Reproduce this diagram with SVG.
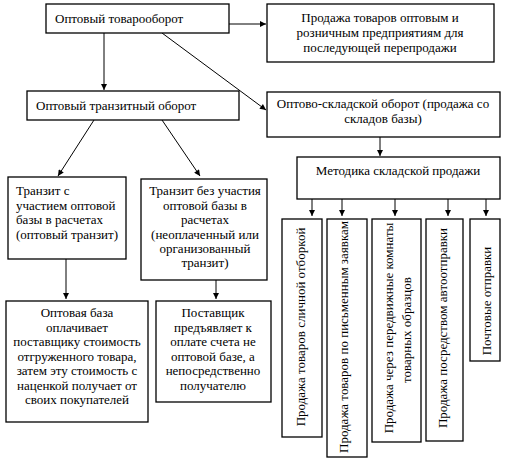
<svg xmlns="http://www.w3.org/2000/svg" width="509" height="460" viewBox="0 0 509 460">
<style>
.box{fill:#fff;stroke:#000;stroke-width:1.3}
text{font-family:"Liberation Serif","Times New Roman",serif;font-size:13px;fill:#000}
.c{text-anchor:middle}
.ln{stroke:#000;stroke-width:1;fill:none;marker-end:url(#ah)}
</style>
<defs>
<marker id="ah" viewBox="0 0 10 10" refX="10" refY="5" markerWidth="7" markerHeight="6" markerUnits="userSpaceOnUse" orient="auto">
<path d="M0,0 L10,5 L0,10 z" fill="#000"/>
</marker>
</defs>
<rect width="509" height="460" fill="#fff"/>
<g id="connectors">
<line class="ln" x1="229" y1="24" x2="266" y2="24"/>
<line class="ln" x1="104" y1="33" x2="104" y2="90"/>
<line class="ln" x1="162" y1="33" x2="266" y2="110"/>
<line class="ln" x1="94" y1="120" x2="58" y2="176"/>
<line class="ln" x1="162" y1="120" x2="200" y2="176"/>
<line class="ln" x1="66" y1="259" x2="66" y2="299"/>
<line class="ln" x1="216" y1="280" x2="216" y2="299"/>
<line class="ln" x1="380" y1="137" x2="380" y2="156"/>
<line class="ln" x1="312" y1="199" x2="312" y2="216"/>
<line class="ln" x1="342" y1="199" x2="342" y2="216"/>
<line class="ln" x1="395" y1="199" x2="395" y2="216"/>
<line class="ln" x1="448" y1="199" x2="448" y2="216"/>
<line class="ln" x1="486" y1="199" x2="486" y2="216"/>
</g>
<g id="n1">
<rect class="box" x="46" y="4" width="183" height="29"/>
<text x="55" y="23">Оптовый товарооборот</text>
</g>
<g id="n2">
<rect class="box" x="267" y="4" width="227" height="58"/>
<text class="c" x="380" y="22">Продажа товаров оптовым и</text>
<text class="c" x="380" y="37">розничным предприятиям для</text>
<text class="c" x="380" y="52">последующей перепродажи</text>
</g>
<g id="n3">
<rect class="box" x="27" y="91" width="212" height="29"/>
<text x="36" y="110">Оптовый транзитный оборот</text>
</g>
<g id="n4">
<rect class="box" x="267" y="92" width="233" height="45"/>
<text class="c" x="383" y="108">Оптово-складской оборот (продажа со</text>
<text class="c" x="383" y="123">складов базы)</text>
</g>
<g id="n5">
<rect class="box" x="8" y="177" width="118" height="82"/>
<text x="16" y="195">Транзит с</text>
<text x="16" y="210">участием оптовой</text>
<text x="16" y="224">базы в расчетах</text>
<text x="16" y="239">(оптовый транзит)</text>
</g>
<g id="n6">
<rect class="box" x="141" y="179" width="126" height="101"/>
<text class="c" x="205" y="195">Транзит без участия</text>
<text class="c" x="205" y="210">оптовой базы в</text>
<text class="c" x="205" y="224">расчетах</text>
<text class="c" x="205" y="239">(неоплаченный или</text>
<text class="c" x="205" y="253">организованный</text>
<text class="c" x="205" y="267">транзит)</text>
</g>
<g id="n7">
<rect class="box" x="6" y="301" width="142" height="121"/>
<text class="c" x="77" y="317">Оптовая база</text>
<text class="c" x="77" y="332">оплачивает</text>
<text class="c" x="77" y="346">поставщику стоимость</text>
<text class="c" x="77" y="361">отгруженного товара,</text>
<text class="c" x="77" y="375">затем эту стоимость с</text>
<text class="c" x="77" y="390">наценкой получает от</text>
<text class="c" x="77" y="404">своих покупателей</text>
</g>
<g id="n8">
<rect class="box" x="156" y="301" width="115" height="101"/>
<text class="c" x="213" y="317">Поставщик</text>
<text class="c" x="213" y="332">предъявляет к</text>
<text class="c" x="213" y="346">оплате счета не</text>
<text class="c" x="213" y="361">оптовой базе, а</text>
<text class="c" x="213" y="375">непосредственно</text>
<text class="c" x="213" y="390">получателю</text>
</g>
<g id="n9">
<rect class="box" x="297" y="157" width="203" height="42"/>
<text class="c" x="398" y="175">Методика складской продажи</text>
</g>
<g id="n10">
<rect class="box" x="282" y="219" width="40" height="218"/>
<text class="c" transform="translate(305,327) rotate(-90)">Продажа товаров сличной отборкой</text>
</g>
<g id="n11">
<rect class="box" x="327" y="219" width="40" height="238"/>
<text class="c" transform="translate(348,337) rotate(-90)" textLength="232" lengthAdjust="spacingAndGlyphs">Продажа товаров по письменным заявкам</text>
</g>
<g id="n12">
<rect class="box" x="372" y="219" width="49" height="223"/>
<text class="c" transform="translate(393,328) rotate(-90)">Продажа через передвижные комнаты</text>
<text class="c" transform="translate(411,330) rotate(-90)">товарных  образцов</text>
</g>
<g id="n13">
<rect class="box" x="426" y="219" width="37" height="222"/>
<text class="c" transform="translate(447,328) rotate(-90)">Продажа посредством автоотправки</text>
</g>
<g id="n14">
<rect class="box" x="470" y="219" width="30" height="142"/>
<text class="c" transform="translate(491,301) rotate(-90)">Почтовые отправки</text>
</g>
</svg>
